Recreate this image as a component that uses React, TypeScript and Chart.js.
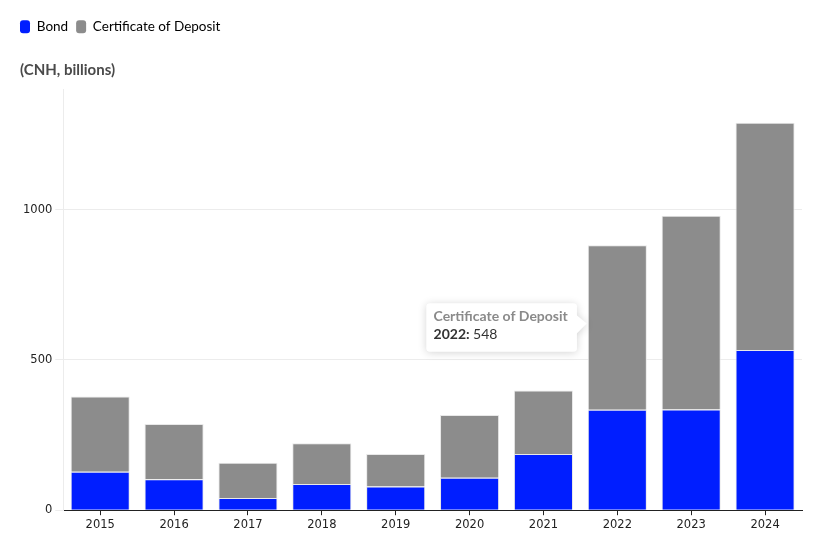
import React, { useEffect, useRef } from 'react';
import { Chart, registerables } from 'chart.js';

Chart.register(...registerables);

const years = ['2015', '2016', '2017', '2018', '2019', '2020', '2021', '2022', '2023', '2024'];
const bondValues = [128, 103, 41, 87, 79, 108, 187, 334, 335, 533];
const cdValues = [250, 184, 117, 136, 108, 209, 211, 548, 645, 756];
const yTicks = [0, 500, 1000];

// the tooltip that is shown pinned in the picture
const pinnedDataset = 1;
const pinnedIndex = 7;

const FONT = 'Lato, "Open Sans", sans-serif';
const TICK_FONT = '"DejaVu Sans", sans-serif';

const LEFT_PAD = 12;
const LEGEND_PAD = 8;

// pull the legend back to the page's left edge (Chart.js adds its own padding)
const legendShift = {
  id: 'legendShift',
  beforeDraw(chart: any) {
    if (chart.legend) chart.legend.left = LEFT_PAD - LEGEND_PAD;
  },
};

const pinnedTooltip = {
  id: 'pinnedTooltip',
  afterDraw(chart: any) {
    const el = chart.getDatasetMeta(pinnedDataset).data[pinnedIndex];
    if (!el) return;
    const { x, y, base, width } = el.getProps(['x', 'y', 'base', 'width'], true);
    const ds = chart.data.datasets[pinnedDataset];
    const title = ds.label as string;
    const label = `${chart.data.labels[pinnedIndex]}: `;
    const value = String(ds.data[pinnedIndex]);
    const ctx: CanvasRenderingContext2D = chart.ctx;

    ctx.save();
    ctx.font = `bold 14px ${FONT}`;
    const titleW = ctx.measureText(title).width;
    const labelW = ctx.measureText(label).width;
    ctx.font = `14px ${FONT}`;
    const valueW = ctx.measureText(value).width;

    const pad = 7;
    const boxW = Math.max(titleW, labelW + valueW) + pad * 2 + 2;
    const boxH = 48;
    const tipX = x - width / 2 - 1;
    const cy = (y + base) / 2;
    const right = tipX - 10;
    const left = right - boxW;
    const top = cy - boxH / 2;

    ctx.shadowColor = 'rgba(0,0,0,0.18)';
    ctx.shadowBlur = 8;
    ctx.shadowOffsetY = 1;
    ctx.fillStyle = '#ffffff';
    ctx.beginPath();
    ctx.roundRect(left, top, boxW, boxH, 3);
    ctx.fill();
    ctx.beginPath();
    ctx.moveTo(right - 1, cy - 13);
    ctx.lineTo(tipX, cy - 4);
    ctx.lineTo(right - 1, cy + 7);
    ctx.closePath();
    ctx.fill();
    ctx.shadowColor = 'transparent';
    ctx.beginPath();
    ctx.roundRect(left, top, boxW, boxH, 3);
    ctx.fill();

    ctx.textBaseline = 'middle';
    ctx.textAlign = 'left';
    ctx.font = `bold 14px ${FONT}`;
    ctx.fillStyle = '#8a8a8a';
    ctx.fillText(title, left + pad, top + 13);
    ctx.fillStyle = '#333333';
    ctx.fillText(label, left + pad, top + 31);
    ctx.font = `14px ${FONT}`;
    ctx.fillText(value, left + pad + labelW, top + 31);
    ctx.restore();
  },
};

const App: React.FC = () => {
  const canvasRef = useRef<HTMLCanvasElement | null>(null);

  useEffect(() => {
    if (!canvasRef.current) return;
    const chart = new Chart(canvasRef.current, {
      type: 'bar',
      data: {
        labels: years,
        datasets: [
          {
            label: 'Bond',
            data: bondValues,
            backgroundColor: '#001eff',
            borderColor: '#e8e8e8',
            borderWidth: 1,
            borderRadius: 0,
          },
          {
            label: 'Certificate of Deposit',
            data: cdValues,
            backgroundColor: '#8c8c8c',
            borderColor: '#e8e8e8',
            borderWidth: 1,
            borderRadius: 0,
          },
        ],
      },
      options: {
        animation: false,
        responsive: true,
        maintainAspectRatio: false,
        datasets: {
          bar: { categoryPercentage: 1, barPercentage: 0.8 },
        },
        layout: { padding: { left: LEFT_PAD, right: 17, top: 4, bottom: -4 } },
        plugins: {
          legend: {
            position: 'top',
            align: 'start',
            labels: {
              boxWidth: 10,
              boxHeight: 13,
              useBorderRadius: true,
              borderRadius: 3,
              padding: LEGEND_PAD,
              color: '#333',
              font: { family: FONT, size: 13.5 },
              generateLabels: (chart: any) =>
                chart.data.datasets.map((d: any, i: number) => ({
                  text: d.label,
                  fillStyle: d.backgroundColor,
                  strokeStyle: d.backgroundColor,
                  lineWidth: 0,
                  borderRadius: 3,
                  datasetIndex: i,
                  hidden: false,
                })),
            },
          },
          title: {
            display: true,
            text: '(CNH, billions)',
            align: 'start',
            weight: 500,
            color: '#4a4a4a',
            font: { family: FONT, size: 15, weight: 'bold' },
            padding: { top: 18, bottom: 10 },
          },
          tooltip: { enabled: false },
        },
        scales: {
          x: {
            stacked: true,
            grid: {
              display: true,
              offset: false,
              drawOnChartArea: false,
              drawTicks: true,
              tickLength: 5,
              color: '#222',
            },
            border: { display: true, color: '#222', width: 1 },
            ticks: {
              color: '#222',
              padding: 3,
              font: { family: TICK_FONT, size: 11.5 },
            },
          },
          y: {
            stacked: true,
            min: 0,
            max: 1400,
            afterBuildTicks: (axis: any) => {
              axis.ticks = yTicks.map((v) => ({ value: v }));
            },
            grid: {
              color: '#ececec',
              tickLength: 8,
            },
            border: { display: true, color: '#ececec' },
            ticks: {
              color: '#222',
              padding: 3,
              font: { family: TICK_FONT, size: 11.5 },
              callback: (v: any) => String(v),
            },
          },
        },
      },
      plugins: [legendShift, pinnedTooltip],
    });
    return () => {
      chart.destroy();
    };
  }, []);

  return (
    <div style={{ position: 'relative', width: 811, height: 523 }}>
      <canvas ref={canvasRef} />
    </div>
  );
};

export default App;
